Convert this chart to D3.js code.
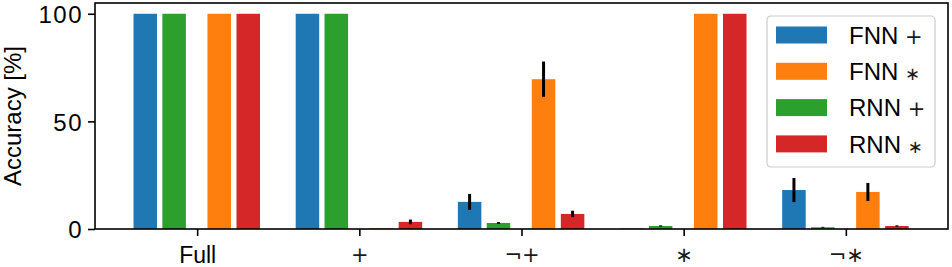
<!DOCTYPE html>
<html>
<head>
<meta charset="utf-8">
<script src="https://cdn.jsdelivr.net/npm/d3@7"></script>
<style>
  html, body { margin: 0; padding: 0; background: #fff; }
  svg { display: block; font-family: "Liberation Sans", Arial, sans-serif; }
</style>
</head>
<body>
<div id="chart"></div>
<script>
// Accuracy per test set, grouped bars with error bars
const groups = ["Full", "+", "¬+", "∗", "¬∗"];
const seriesNames = ["FNN +", "FNN ∗", "RNN +", "RNN ∗"];
const colors = ["#1f77b4", "#ff7f0e", "#2ca02c", "#d62728"];

// mean accuracy per series, one value per group
const fnnPlus = [100, 100, 12.6, 0.2, 18.1];
const fnnMul  = [100, 0.3, 69.6, 100, 17.2];
const rnnPlus = [100, 100, 2.8, 1.4, 0.8];
const rnnMul  = [100, 3.3, 7.0, 100, 1.4];

// error (half-length of bar)
const fnnPlusErr = [0, 0, 3.7, 0, 5.6];
const fnnMulErr  = [0, 0, 8.2, 0, 4.2];
const rnnPlusErr = [0, 0, 0.4, 0.3, 0.2];
const rnnMulErr  = [0, 1.1, 1.5, 0, 0.3];

const values = [fnnPlus, fnnMul, rnnPlus, rnnMul];
const errors = [fnnPlusErr, fnnMulErr, rnnPlusErr, rnnMulErr];

const yTicks = [0, 50, 100];

// bar slot offsets inside a group (x units), by series
const slotOffset = [-0.32, 0.136, -0.142, 0.315];
const barWidth = 0.145;

const W = 952, H = 267;
const margin = { left: 95, right: 4, top: 3, bottom: 38 };

const svg = d3.select("#chart").append("svg")
  .attr("width", W).attr("height", H);

const x = d3.scaleLinear()
  .domain([-0.63, groups.length - 1 + 0.63])
  .range([margin.left, W - margin.right]);
const y = d3.scaleLinear()
  .domain([0, 105])
  .range([H - margin.bottom, margin.top]);

const plot = svg.append("g");

// bars
values.forEach((vals, s) => {
  plot.selectAll(null)
    .data(vals)
    .enter().append("rect")
    .attr("x", (d, i) => x(i + slotOffset[s] - barWidth / 2))
    .attr("width", x(barWidth) - x(0))
    .attr("y", d => y(d))
    .attr("height", d => y(0) - y(d))
    .attr("fill", colors[s]);
});

// error bars
values.forEach((vals, s) => {
  plot.selectAll(null)
    .data(vals.map((v, i) => ({ v, e: errors[s][i], i })).filter(d => d.e > 0))
    .enter().append("line")
    .attr("x1", d => x(d.i + slotOffset[s]))
    .attr("x2", d => x(d.i + slotOffset[s]))
    .attr("y1", d => y(d.v - d.e))
    .attr("y2", d => y(d.v + d.e))
    .attr("stroke", "#000")
    .attr("stroke-width", 3);
});

// axes
const xAxis = d3.axisBottom(x)
  .tickValues(d3.range(groups.length))
  .tickFormat(i => groups[i])
  .tickSizeOuter(0)
  .tickSize(7)
  .tickPadding(11);
const yAxis = d3.axisLeft(y)
  .tickValues(yTicks)
  .tickSizeOuter(0)
  .tickSize(7)
  .tickPadding(5);

const gx = svg.append("g")
  .attr("transform", `translate(0,${H - margin.bottom})`)
  .call(xAxis);
const gy = svg.append("g")
  .attr("transform", `translate(${margin.left},0)`)
  .call(yAxis);

[gx, gy].forEach(g => {
  g.select(".domain").remove();
  g.selectAll(".tick line").attr("stroke", "#000").attr("stroke-width", 1.6);
  g.selectAll(".tick text")
    .attr("fill", "#000")
    .style("font-size", "23px")
    .style("font-family", "'Liberation Sans', Arial, sans-serif");
});
gy.selectAll(".tick text")
  .attr("dy", "0.36em")
  .style("font-size", "24px")
  .style("letter-spacing", "1.5px");

// symbolic tick labels use the math font
gx.selectAll(".tick text")
  .filter(i => groups[i] !== "Full")
  .style("font-family", "'DejaVu Sans', sans-serif")
  .style("font-size", "21px")
  .attr("fill", "#1a1a1a");

// frame
svg.append("rect")
  .attr("x", margin.left)
  .attr("y", margin.top)
  .attr("width", W - margin.left - margin.right)
  .attr("height", H - margin.top - margin.bottom)
  .attr("fill", "none")
  .attr("stroke", "#000")
  .attr("stroke-width", 1.6);

// y label
svg.append("text")
  .attr("transform", `translate(21,${(y(0) + y(105)) / 2}) rotate(-90)`)
  .attr("text-anchor", "middle")
  .style("font-size", "24px")
  .text("Accuracy [%]");

// legend
const lg = svg.append("g").attr("transform", "translate(767,16)");
lg.append("rect")
  .attr("width", 168).attr("height", 151)
  .attr("rx", 4)
  .attr("fill", "#fff").attr("fill-opacity", 0.8)
  .attr("stroke", "#ccc").attr("stroke-width", 1.2);

seriesNames.forEach((name, s) => {
  const cy = 19 + s * 36.3;
  const [net, op] = name.split(" ");
  lg.append("rect")
    .attr("x", 9).attr("y", cy - 8.5)
    .attr("width", 51).attr("height", 17)
    .attr("fill", colors[s]);
  const t = lg.append("text")
    .attr("x", 82).attr("y", cy)
    .attr("dy", "0.36em")
    .style("font-size", "24px");
  t.append("tspan").text(net + " ");
  t.append("tspan")
    .style("font-family", "'DejaVu Sans', sans-serif")
    .style("font-size", op === "∗" ? "18px" : "21px")
    .attr("fill", "#1a1a1a")
    .text(op);
});
</script>
</body>
</html>
